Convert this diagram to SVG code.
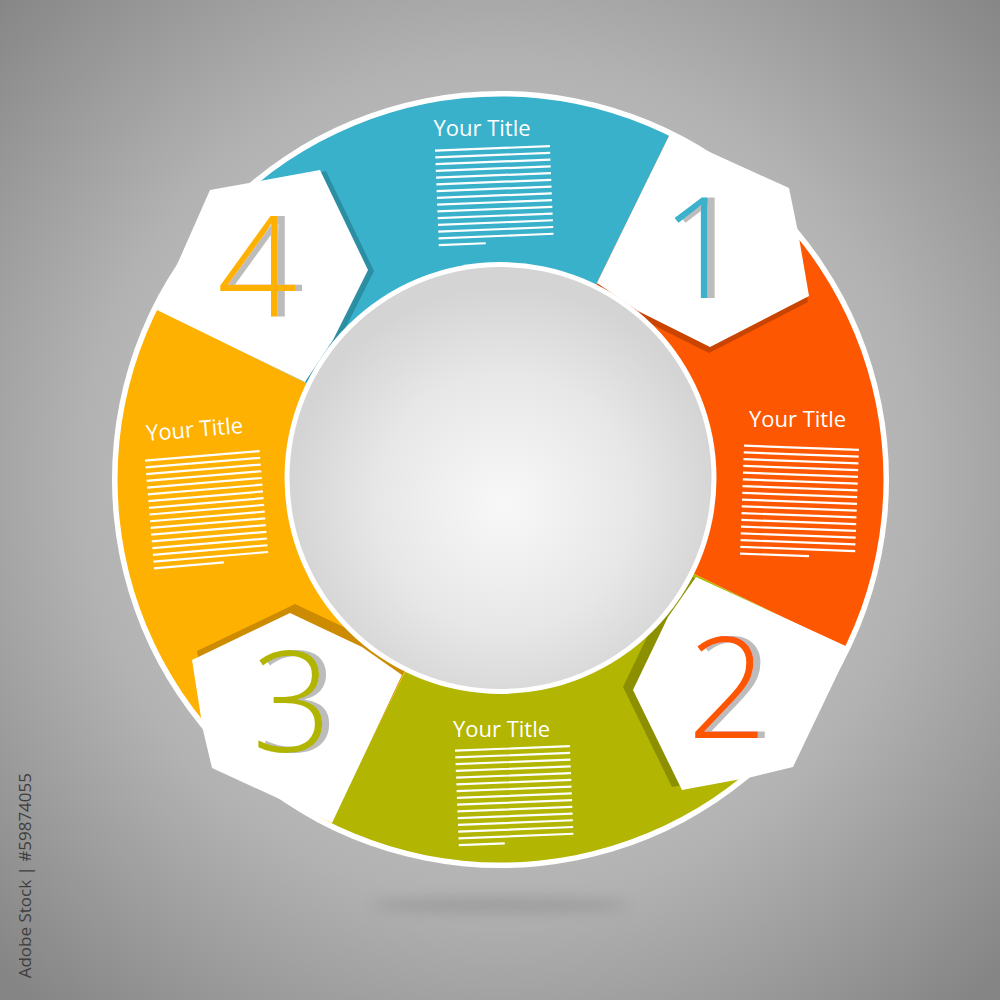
<svg xmlns="http://www.w3.org/2000/svg" xmlns:xlink="http://www.w3.org/1999/xlink" width="1000" height="1000" viewBox="0 0 1000 1000">
<style>
.title{font-family:"Open Sans","Liberation Sans",sans-serif;font-size:22px;fill:#ffffff;text-anchor:middle}
.ln{fill:none;stroke:#ffffff;stroke-width:2.2}
.num{font-family:"Open Sans","Liberation Sans",sans-serif;font-weight:350;font-size:140px;text-anchor:middle;filter:url(#nsh)}
.tab{fill:#ffffff}
</style>
<defs>
<radialGradient id="bg" cx="500" cy="480" r="700" gradientUnits="userSpaceOnUse">
<stop offset="0" stop-color="#d8d8d8"/><stop offset="0.6" stop-color="#b2b2b2"/><stop offset="1" stop-color="#858585"/>
</radialGradient>
<radialGradient id="core" cx="505" cy="500" r="215" fx="505" fy="505" gradientUnits="userSpaceOnUse">
<stop offset="0" stop-color="#f8f8f8"/><stop offset="0.6" stop-color="#e7e7e7"/><stop offset="1" stop-color="#d4d4d4"/>
</radialGradient>
<filter id="blur" x="-50%" y="-200%" width="200%" height="500%"><feGaussianBlur stdDeviation="7"/></filter>
<filter id="nsh" x="-30%" y="-20%" width="160%" height="140%">
<feFlood flood-color="#bcbcbc"/>
<feComposite in2="SourceAlpha" operator="in"/>
<feOffset dx="7" dy="0" result="s"/>
<feMerge><feMergeNode in="s"/><feMergeNode in="SourceGraphic"/></feMerge>
</filter>
<path id="wBlue" d="M500.5 479.5L88.5 275L204.8 127.1L420.6 26.5L657.8 47.2L703.2 66.6Z"/>
<path id="wOrange" d="M500.5 479.5L703.2 66.6L852.9 183.8L953.5 399.6L932.8 636.8L913.9 681.2Z"/>
<path id="wGreen" d="M500.5 479.5L913.9 681.2L796.2 831.9L580.4 932.5L343.2 911.8L296 891.5Z"/>
<path id="wYellow" d="M500.5 479.5L296 891.5L148.1 775.2L47.5 559.4L68.2 322.2L88.5 275Z"/>
<clipPath id="cRing"><circle cx="500.5" cy="479.5" r="383"/></clipPath>
<clipPath id="cBlue"><use xlink:href="#wBlue"/></clipPath>
<clipPath id="cOrange"><use xlink:href="#wOrange"/></clipPath>
<clipPath id="cGreen"><use xlink:href="#wGreen"/></clipPath>
<clipPath id="cYellow"><use xlink:href="#wYellow"/></clipPath>
<polygon id="t1" points="670,134 789,188 798,232 809,296 710,347 638,311 597,283"/>
<polygon id="t2" points="696,577 850,648 793,767 752,777 682,790 633,690 668,617"/>
<polygon id="t3" points="402,675 332,823 212,768 203,730 192,660 290,613 362,647"/>
<polygon id="t4" points="157,310 210,190 320,170 368,270 333,340 305,382"/>
<path id="l14" d="M0 0h115M0 6.75h115M0 13.5h115M0 20.25h115M0 27h115M0 33.75h115M0 40.5h115M0 47.25h115M0 54h115M0 60.75h115M0 67.5h115M0 74.25h115M0 81h115M0 87.75h115"/>
<path id="l16" d="M0 0h115M0 6.75h115M0 13.5h115M0 20.25h115M0 27h115M0 33.75h115M0 40.5h115M0 47.25h115M0 54h115M0 60.75h115M0 67.5h115M0 74.25h115M0 81h115M0 87.75h115M0 94.5h115M0 101.25h115"/>
</defs>

<g id="background">
<rect width="1000" height="1000" fill="url(#bg)"/>
<ellipse cx="500" cy="905" rx="130" ry="7" fill="#5a5a5a" opacity="0.25" filter="url(#blur)"/>
<text x="31" y="773" transform="rotate(-90 31 773)" font-family="'Open Sans','Liberation Sans',sans-serif" font-size="17" fill="#3e3e3e" text-anchor="end">Adobe Stock | #59874055</text>
</g>

<g id="ring-border"><circle cx="500.5" cy="479.5" r="388.5" fill="#ffffff"/></g>

<g id="segments" clip-path="url(#cRing)">
<g id="seg-blue">
<use xlink:href="#wBlue" fill="#3ab1cb"/>
<g clip-path="url(#cBlue)"><use xlink:href="#t4" transform="translate(6,1)" fill="#2c8ea3"/></g>
<text class="title" x="482" y="136">Your Title</text>
<g transform="translate(435,150.7) rotate(-2.3)"><use xlink:href="#l14" class="ln"/><path class="ln" d="M0 94.5h47"/></g>
</g>
<g id="seg-orange">
<use xlink:href="#wOrange" fill="#fe5702"/>
<g clip-path="url(#cOrange)"><use xlink:href="#t1" transform="translate(-1,6)" fill="#c94400"/></g>
<text class="title" x="797.5" y="427">Your Title</text>
<g transform="translate(744,445.7) rotate(2.1)"><use xlink:href="#l16" class="ln"/><path class="ln" d="M0 108h69"/></g>
</g>
<g id="seg-green">
<use xlink:href="#wGreen" fill="#b2b502"/>
<g clip-path="url(#cGreen)"><use xlink:href="#t2" transform="translate(-10,-3)" fill="#8c9000"/></g>
<text class="title" x="501.5" y="737">Your Title</text>
<g transform="translate(455,750.7) rotate(-2.3)"><use xlink:href="#l14" class="ln"/><path class="ln" d="M0 94.5h46"/></g>
</g>
<g id="seg-yellow">
<use xlink:href="#wYellow" fill="#feb100"/>
<g clip-path="url(#cYellow)"><use xlink:href="#t3" transform="translate(5,-9)" fill="#cc8b00"/></g>
<text class="title" x="194.5" y="437" transform="rotate(-4.8 194.5 430)">Your Title</text>
<g transform="translate(145,460.7) rotate(-4.8)"><use xlink:href="#l16" class="ln"/><path class="ln" d="M0 108h70"/></g>
</g>
</g>

<g id="tab-1">
<use xlink:href="#t1" class="tab"/>
<text class="num" x="701" y="298" fill="#3ab1cb">1</text>
</g>
<g id="tab-2">
<use xlink:href="#t2" class="tab"/>
<text class="num" x="727.5" y="738" fill="#fe5702">2</text>
</g>
<g id="tab-3">
<use xlink:href="#t3" class="tab"/>
<text class="num" x="292" y="752" fill="#b2b502">3</text>
</g>
<g id="tab-4">
<use xlink:href="#t4" class="tab"/>
<text class="num" x="257" y="317" fill="#feb100">4</text>
</g>

<g id="center-circle">
<circle cx="500.5" cy="478" r="216" fill="#ffffff"/>
<circle cx="500.5" cy="478" r="211" fill="url(#core)"/>
</g>
</svg>
